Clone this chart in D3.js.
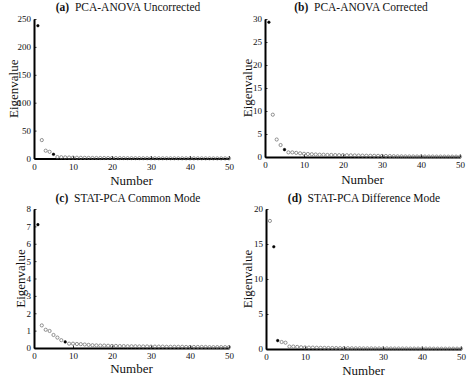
<!DOCTYPE html>
<html>
<head>
<meta charset="utf-8">
<script src="https://cdn.jsdelivr.net/npm/d3@7"></script>
<style>
  body { margin: 0; background: #fff; }
  svg text { font-family: "Liberation Serif", "Times New Roman", Times, "DejaVu Serif", serif; fill: #111; }
</style>
</head>
<body>
<div id="chart"></div>
<script>
// eigenvalues, components 1..50
const uncorrected = [238, 33, 14, 12, 7.5, 2.6, 2.3, 2.0, 1.8, 1.6, 1.4, 1.3, 1.2, 1.1, 1.0, 0.95, 0.9, 0.85, 0.8, 0.75,
    0.7, 0.68, 0.65, 0.62, 0.6, 0.58, 0.55, 0.52, 0.5, 0.48, 0.46, 0.44, 0.42, 0.4, 0.39, 0.38, 0.37, 0.36, 0.35, 0.34,
    0.33, 0.32, 0.31, 0.3, 0.29, 0.28, 0.27, 0.26, 0.25, 0.24]
const corrected = [29.3, 9.2, 3.8, 2.6, 1.6, 1.0, 1.0, 0.9, 0.8, 0.7, 0.65, 0.6, 0.55, 0.5, 0.5, 0.45, 0.45, 0.42, 0.4, 0.4,
    0.38, 0.36, 0.34, 0.32, 0.3, 0.28, 0.27, 0.26, 0.25, 0.24, 0.22, 0.2, 0.18, 0.15, 0.14, 0.13, 0.12, 0.12, 0.11, 0.11,
    0.1, 0.1, 0.1, 0.09, 0.09, 0.09, 0.08, 0.08, 0.08, 0.07]
const commonMode = [7.1, 1.3, 1.05, 0.98, 0.75, 0.6, 0.45, 0.35, 0.25, 0.25, 0.23, 0.22, 0.2, 0.18, 0.16, 0.15, 0.14, 0.14, 0.13, 0.12,
    0.12, 0.11, 0.11, 0.1, 0.1, 0.1, 0.09, 0.09, 0.09, 0.08, 0.08, 0.08, 0.08, 0.07, 0.07, 0.07, 0.07, 0.07, 0.06, 0.06,
    0.06, 0.06, 0.06, 0.06, 0.05, 0.05, 0.05, 0.05, 0.05, 0.05]
const differenceMode = [18.3, 14.6, 1.2, 1.0, 0.9, 0.35, 0.35, 0.3, 0.25, 0.22, 0.2, 0.2, 0.18, 0.17, 0.16, 0.15, 0.14, 0.13, 0.12, 0.12,
    0.11, 0.1, 0.1, 0.1, 0.09, 0.09, 0.09, 0.08, 0.08, 0.08, 0.08, 0.07, 0.07, 0.07, 0.07, 0.07, 0.06, 0.06, 0.06, 0.06,
    0.06, 0.06, 0.05, 0.05, 0.05, 0.05, 0.05, 0.05, 0.05, 0.05]

// selected components (drawn filled)
const selectedA = [1, 5]
const selectedB = [1, 5]
const selectedC = [1, 8]
const selectedD = [2, 3]

const xTicks = [0, 10, 20, 30, 40, 50]

const SERIF = "'Liberation Serif', 'Times New Roman', Times, 'DejaVu Serif', serif"

const panels = [
    { tag: "(a)", title: "PCA-ANOVA Uncorrected", values: uncorrected, selected: selectedA, yMax: 250, yTicks: [0, 50, 100, 150, 200, 250],
      box: { left: 34, right: 229, top: 19, bottom: 158.5 }, titleX: 128, titleY: 11, ylabX: 13, xlabY: 185 },
    { tag: "(b)", title: "PCA-ANOVA Corrected", values: corrected, selected: selectedB, yMax: 30, yTicks: [0, 5, 10, 15, 20, 25, 30],
      box: { left: 265, right: 460, top: 19, bottom: 157 }, titleX: 361, titleY: 11, ylabX: 247, xlabY: 184 },
    { tag: "(c)", title: "STAT-PCA Common Mode", values: commonMode, selected: selectedC, yMax: 8, yTicks: [0, 1, 2, 3, 4, 5, 6, 7, 8],
      box: { left: 34, right: 229, top: 209, bottom: 348 }, titleX: 128, titleY: 202, ylabX: 20, xlabY: 373 },
    { tag: "(d)", title: "STAT-PCA Difference Mode", values: differenceMode, selected: selectedD, yMax: 20, yTicks: [0, 5, 10, 15, 20],
      box: { left: 266, right: 461, top: 209, bottom: 349 }, titleX: 364, titleY: 202, ylabX: 247, xlabY: 375 }
]

const svg = d3.select("#chart")
    .append("svg")
    .attr("width", 474)
    .attr("height", 387)

panels.forEach(p => {
    const b = p.box
    const x = d3.scaleLinear().domain([0, 50]).range([b.left, b.right])
    const y = d3.scaleLinear().domain([0, p.yMax]).range([b.bottom, b.top])
    const g = svg.append("g").attr("font-family", SERIF)

    // title, bold letter tag then plain text
    const t = g.append("text")
        .attr("x", p.titleX)
        .attr("y", p.titleY)
        .attr("text-anchor", "middle")
        .style("font-size", "11.5px")
    t.append("tspan").style("font-weight", "bold").text(p.tag)
    t.append("tspan").text("\u2002" + p.title)

    // axes, ticks point inward
    const xAxis = g.append("g")
        .attr("transform", "translate(0," + b.bottom + ")")
        .call(d3.axisBottom(x).tickValues(xTicks).tickSizeInner(-2.5).tickSizeOuter(0).tickPadding(5))
    const yAxis = g.append("g")
        .attr("transform", "translate(" + b.left + ",0)")
        .call(d3.axisLeft(y).tickValues(p.yTicks).tickSizeInner(-2.5).tickSizeOuter(0).tickPadding(3))

    ;[xAxis, yAxis].forEach(a => {
        a.attr("font-family", SERIF)
        a.select(".domain").attr("stroke", "#000").attr("stroke-width", 2)
        a.selectAll(".tick line").attr("stroke", "#000").attr("stroke-width", 0.8)
        a.selectAll(".tick text")
            .style("font-size", "9px")
            .attr("fill", "#111")
    })

    // axis labels
    g.append("text")
        .attr("transform", "translate(" + p.ylabX + "," + ((b.top + b.bottom) / 2) + ") rotate(-90)")
        .attr("text-anchor", "middle")
        .attr("dy", "0.35em")
        .style("font-size", "13px")
        .text("Eigenvalue")
    g.append("text")
        .attr("x", (b.left + b.right) / 2)
        .attr("y", p.xlabY)
        .attr("text-anchor", "middle")
        .style("font-size", "13px")
        .text("Number")

    // eigenvalue markers
    const pts = p.values.map((v, i) => ({ n: i + 1, v: v, sel: p.selected.includes(i + 1) }))
    g.selectAll("circle")
        .data(pts)
        .enter()
        .append("circle")
        .attr("cx", d => x(d.n))
        .attr("cy", d => y(d.v))
        .attr("r", d => d.sel ? 1.3 : 1.6)
        .attr("fill", d => d.sel ? "#000" : "none")
        .attr("stroke", d => d.sel ? "#000" : "#666")
        .attr("stroke-width", d => d.sel ? 0.5 : 0.7)
})
</script>
</body>
</html>
